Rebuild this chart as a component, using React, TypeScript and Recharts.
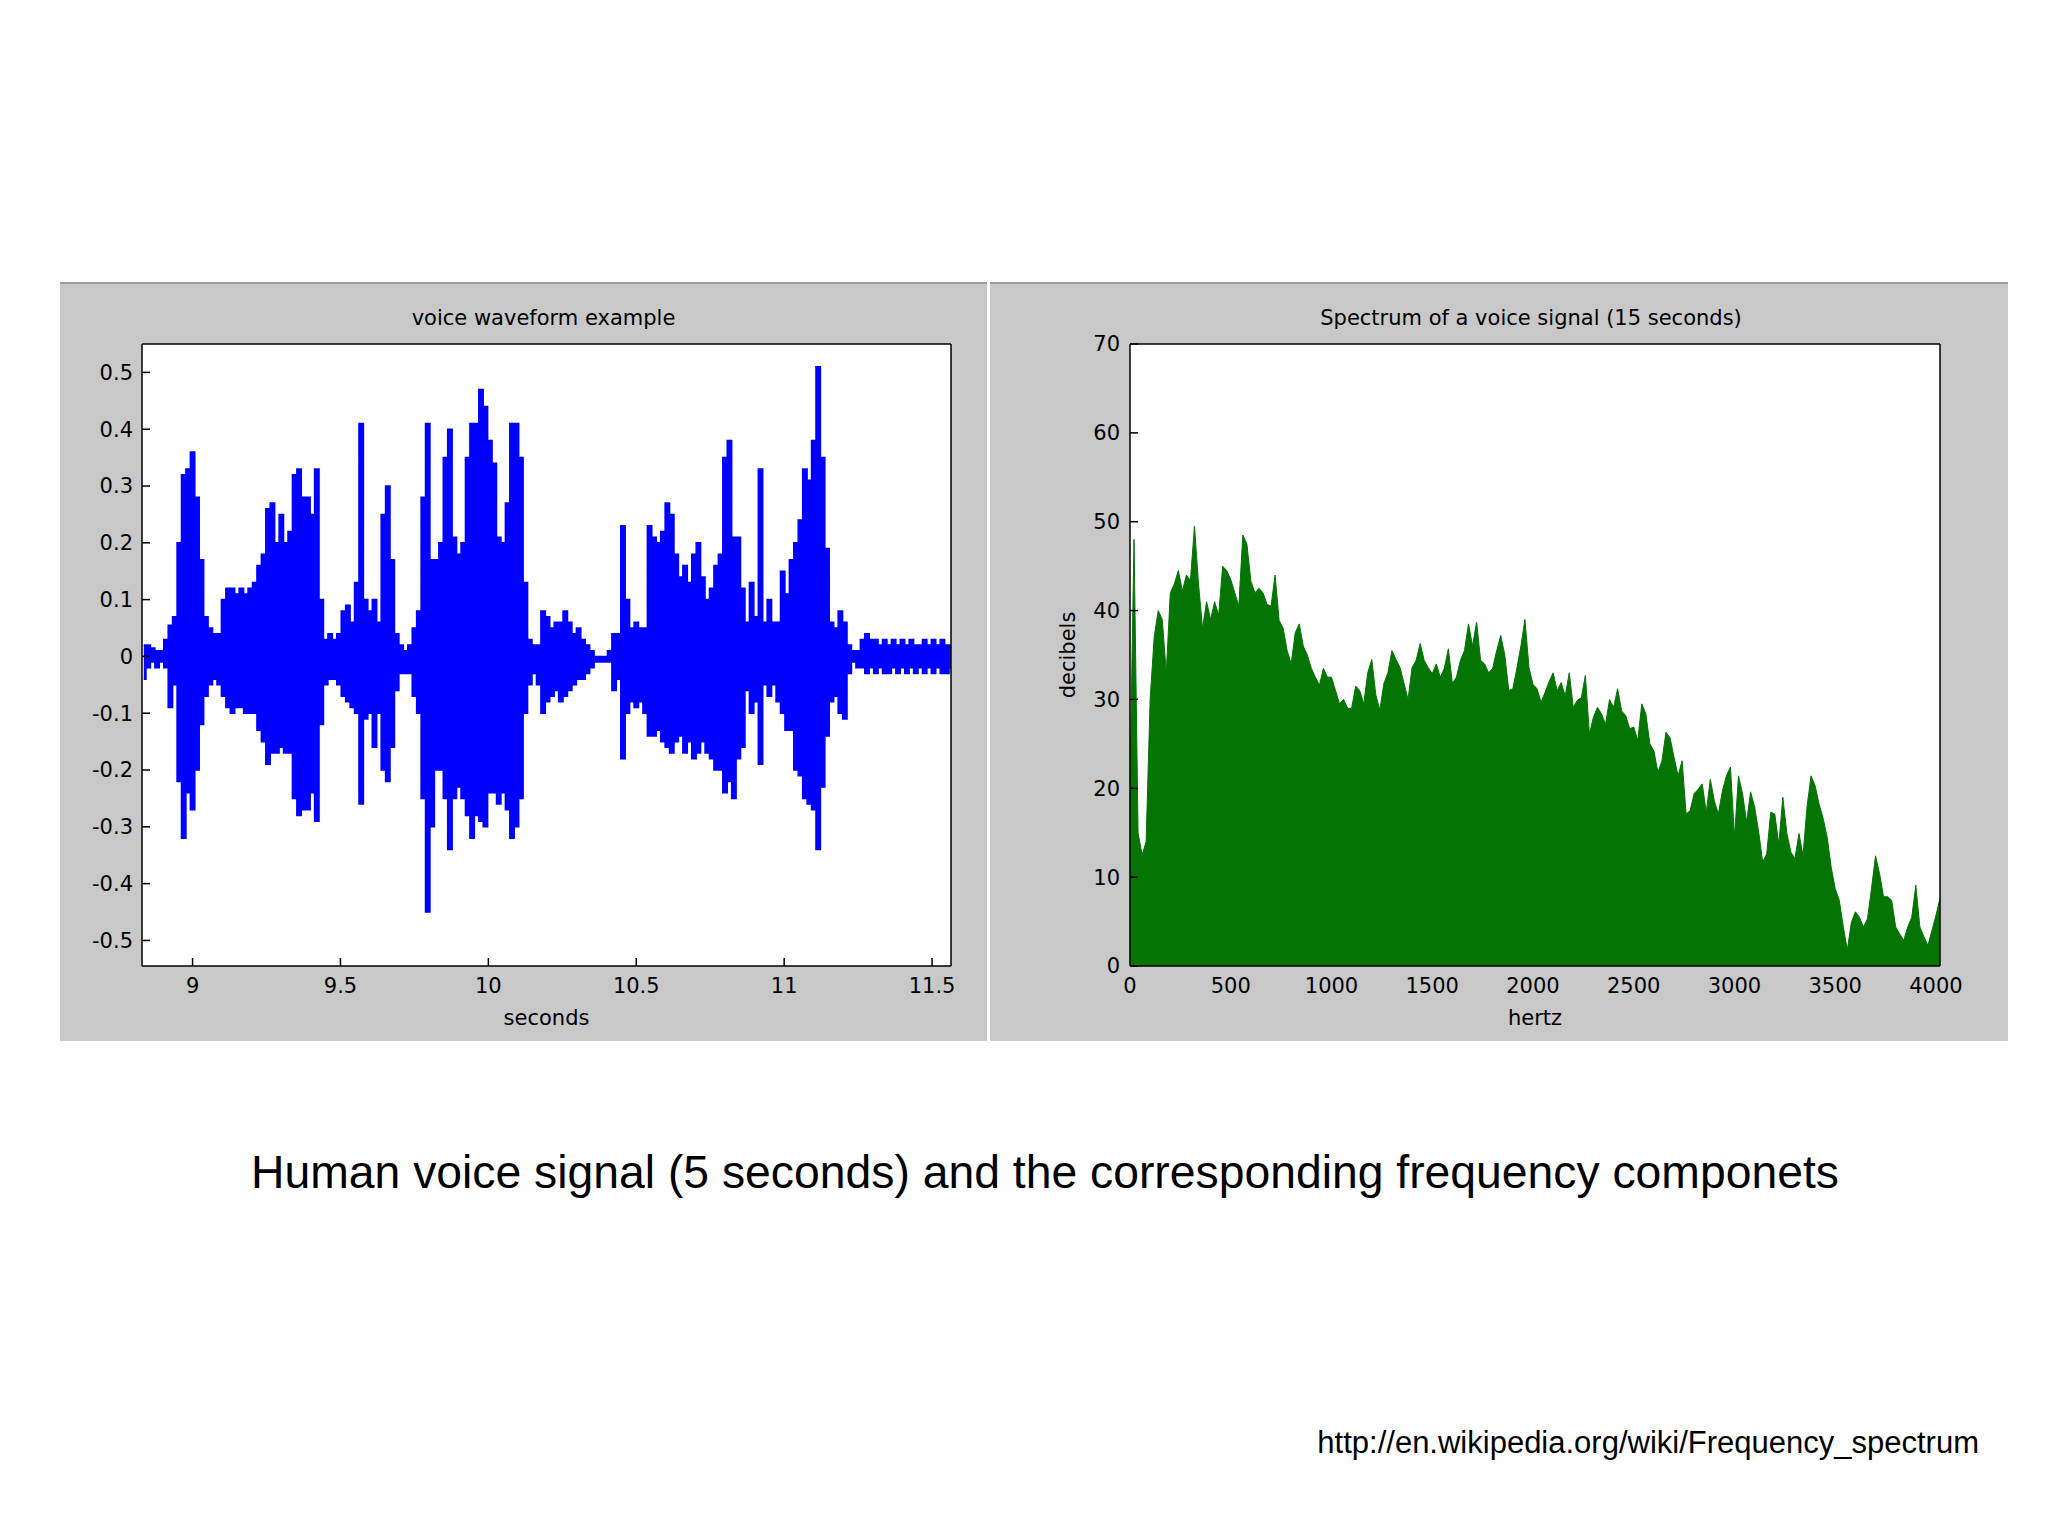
import { AreaChart, Area, XAxis, YAxis, CartesianGrid } from 'recharts'

// voice waveform: upper / lower envelope read every 15 ms from 8.835 s
const waveStart = 8.835
const waveStep = 0.015
const waveHi = [
  0.02, 0.02, 0.015, 0.01, 0.01, 0.03, 0.055, 0.07, 0.2, 0.32,
  0.33, 0.36, 0.28, 0.17, 0.07, 0.05, 0.04, 0.04, 0.1, 0.12,
  0.12, 0.11, 0.12, 0.11, 0.12, 0.13, 0.16, 0.18, 0.26, 0.27,
  0.2, 0.25, 0.2, 0.22, 0.32, 0.33, 0.28, 0.28, 0.25, 0.33,
  0.1, 0.03, 0.04, 0.03, 0.04, 0.08, 0.09, 0.06, 0.13, 0.41,
  0.1, 0.08, 0.1, 0.06, 0.25, 0.3, 0.17, 0.04, 0.02, 0.01,
  0.02, 0.05, 0.08, 0.28, 0.41, 0.17, 0.17, 0.2, 0.35, 0.4,
  0.21, 0.18, 0.2, 0.35, 0.41, 0.41, 0.47, 0.44, 0.38, 0.34,
  0.21, 0.2, 0.27, 0.41, 0.41, 0.35, 0.13, 0.03, 0.02, 0.02,
  0.08, 0.07, 0.05, 0.06, 0.06, 0.08, 0.06, 0.04, 0.05, 0.03,
  0.02, 0.01, 0, 0, 0, 0.01, 0.04, 0.04, 0.23, 0.1,
  0.05, 0.06, 0.05, 0.05, 0.23, 0.21, 0.2, 0.22, 0.27, 0.25,
  0.18, 0.14, 0.16, 0.13, 0.18, 0.2, 0.14, 0.1, 0.12, 0.16,
  0.18, 0.35, 0.38, 0.21, 0.21, 0.12, 0.06, 0.13, 0.07, 0.33,
  0.06, 0.1, 0.06, 0.06, 0.15, 0.11, 0.17, 0.2, 0.24, 0.33,
  0.31, 0.38, 0.51, 0.35, 0.19, 0.06, 0.05, 0.08, 0.06, 0.02,
  0.01, 0.01, 0.03, 0.04, 0.03, 0.03, 0.02, 0.03, 0.02, 0.03,
  0.02, 0.03, 0.02, 0.03, 0.02, 0.02, 0.03, 0.02, 0.03, 0.02,
  0.03, 0.02, 0.02,
]
const waveLo = [
  -0.04, -0.02, -0.01, -0.02, -0.01, -0.02, -0.09, -0.05, -0.22, -0.32,
  -0.24, -0.27, -0.2, -0.12, -0.07, -0.05, -0.04, -0.05, -0.07, -0.09,
  -0.1, -0.09, -0.09, -0.1, -0.1, -0.1, -0.13, -0.15, -0.19, -0.17,
  -0.17, -0.16, -0.17, -0.17, -0.25, -0.28, -0.27, -0.27, -0.24, -0.29,
  -0.12, -0.05, -0.04, -0.04, -0.05, -0.07, -0.08, -0.09, -0.1, -0.26,
  -0.11, -0.1, -0.16, -0.1, -0.2, -0.22, -0.16, -0.06, -0.03, -0.03,
  -0.03, -0.07, -0.1, -0.25, -0.45, -0.3, -0.2, -0.2, -0.25, -0.34,
  -0.25, -0.23, -0.25, -0.28, -0.32, -0.28, -0.29, -0.3, -0.24, -0.24,
  -0.26, -0.24, -0.27, -0.32, -0.3, -0.25, -0.1, -0.05, -0.03, -0.05,
  -0.1, -0.08, -0.07, -0.06, -0.08, -0.07, -0.06, -0.05, -0.04, -0.04,
  -0.03, -0.02, -0.01, -0.01, -0.01, -0.01, -0.06, -0.04, -0.18, -0.1,
  -0.08, -0.09, -0.08, -0.1, -0.14, -0.14, -0.13, -0.15, -0.16, -0.17,
  -0.15, -0.14, -0.17, -0.15, -0.18, -0.17, -0.15, -0.17, -0.18, -0.2,
  -0.2, -0.24, -0.22, -0.25, -0.18, -0.16, -0.06, -0.1, -0.08, -0.19,
  -0.05, -0.07, -0.05, -0.08, -0.1, -0.13, -0.13, -0.2, -0.21, -0.25,
  -0.26, -0.27, -0.34, -0.23, -0.14, -0.08, -0.07, -0.1, -0.11, -0.03,
  -0.01, -0.02, -0.02, -0.03, -0.02, -0.03, -0.02, -0.03, -0.03, -0.02,
  -0.03, -0.02, -0.03, -0.02, -0.03, -0.02, -0.03, -0.02, -0.03, -0.02,
  -0.03, -0.03, -0.02,
]
const waveXTicks = [9, 9.5, 10, 10.5, 11, 11.5]
const waveYTicks = [-0.5, -0.4, -0.3, -0.2, -0.1, 0, 0.1, 0.2, 0.3, 0.4, 0.5]

// spectrum: decibels read every 20 Hz from 0 Hz
const specStep = 20
const specDb = [
  21, 48, 15, 12.5, 14, 30,
  37, 40, 39, 33, 42,
  43, 44.5, 42.2, 44, 43.4,
  49.5, 43, 38, 41, 39,
  41, 39.5, 45, 44.5, 43.5,
  42, 40.5, 48.5, 47.5, 43.3,
  42, 42.5, 42, 40.7, 40.5,
  44, 38.9, 38, 35.5, 34,
  37.5, 38.5, 36, 35, 33.5,
  32.5, 31.6, 33.5, 32.5, 32.5,
  31, 29.5, 30, 29, 29,
  31.5, 31, 29.5, 33, 34.5,
  30.5, 28.8, 31.8, 33, 35.5,
  34.5, 33.6, 31.8, 30, 33.6,
  34.4, 36.3, 34.4, 33.6, 32.9,
  34, 32.5, 33.5, 35.7, 31.8,
  32.5, 34.4, 35.5, 38.5, 36,
  38.7, 34.4, 34, 33, 33.5,
  35.5, 37.2, 35, 31, 31.2,
  33.5, 36, 39, 33.6, 31.7,
  31.2, 29.7, 30.8, 32, 33,
  31, 31.9, 30.4, 33, 29.1,
  29.9, 30.2, 32.7, 26.1, 28,
  29.1, 28.4, 27.2, 30, 29.1,
  31.2, 28.7, 28.2, 26.7, 26.9,
  25.4, 29.5, 28.4, 25, 24.2,
  21.8, 23.1, 26.3, 25.7, 23.5,
  21.4, 23.1, 17.1, 17.5, 19.4,
  19.9, 20.5, 17.3, 21, 18.6,
  17.1, 19.7, 21.4, 22.4, 14.5,
  21.4, 19.4, 16.2, 19.6, 17.9,
  15.1, 11.7, 12.6, 17.3, 17.1,
  13.7, 19, 14.9, 12.8, 12.1,
  14.9, 12.4, 17.9, 21.4, 20.3,
  18.2, 16.6, 14.5, 11.1, 8.7,
  7.4, 4.4, 1.8, 4.9, 6.1,
  5.5, 4.4, 5.3, 8.7, 12.4,
  10.4, 7.8, 7.8, 7.4, 4.4,
  3.6, 2.9, 4.4, 5.5, 9.1,
  4.4, 3.3, 2.3, 4, 5.7,
  7.6,
]
const specXTicks = [0, 500, 1000, 1500, 2000, 2500, 3000, 3500, 4000]
const specYTicks = [0, 10, 20, 30, 40, 50, 60, 70]

// waveform drawn as a band between the lower and upper envelope
const waveData = waveHi.map((hi, i) => ({ t: waveStart + i * waveStep, range: [waveLo[i], hi] }))
const specData = specDb.map((db, i) => ({ hz: i * specStep, db }))

const FONT = '"DejaVu Sans", sans-serif'
const tickText = { fill: '#000', fontSize: 21, fontFamily: FONT }
const blackLine = { stroke: '#000', strokeWidth: 1.5 }
const labelText = { fill: '#000', fontSize: 21, fontFamily: FONT }

const panel = (left: number, width: number): React.CSSProperties => ({
  position: 'absolute', left, top: 282, width, height: 759,
  background: '#c8c8c8', borderTop: '2px solid #9c9c9c', boxSizing: 'border-box',
})

const title = (left: number, width: number): React.CSSProperties => ({
  position: 'absolute', left, width, top: 306, textAlign: 'center',
  fontFamily: FONT, fontSize: 21, lineHeight: '24px', color: '#000', whiteSpace: 'nowrap',
})

const fmtWaveY = (v: number) => (v === 0 ? '0' : v.toFixed(1))

export default function App() {
  return (
    <div style={{ position: 'absolute', left: 0, top: 0, width: 2048, height: 1535, background: '#fff' }}>
      <div style={panel(60, 927)} />
      <div style={panel(990, 1018)} />

      <div style={{ position: 'absolute', left: 60, top: 282 }}>
        <AreaChart width={927} height={759} data={waveData} margin={{ top: 61, right: 35, bottom: 0, left: 0 }}>
          <CartesianGrid horizontal={false} vertical={false} fill="#ffffff" />
          <Area
            type="step" dataKey="range" stroke="#0000ff" strokeWidth={1.5} fill="#0000ff" fillOpacity={1}
            dot={false} activeDot={false} isAnimationActive={false}
          />
          <XAxis
            dataKey="t" type="number" domain={[8.829, 11.564]} allowDataOverflow
            ticks={waveXTicks} interval={0} height={75}
            tick={tickText} tickSize={-8} tickMargin={20} axisLine={blackLine} tickLine={blackLine}
            label={{ value: 'seconds', position: 'insideBottom', offset: 16, ...labelText }}
          />
          <XAxis
            xAxisId="top" orientation="top" type="number" domain={[8.829, 11.564]} allowDataOverflow
            ticks={waveXTicks} interval={0} height={1}
            tick={false} tickSize={-8} axisLine={blackLine} tickLine={blackLine}
          />
          <YAxis
            type="number" domain={[-0.545, 0.55]} allowDataOverflow ticks={waveYTicks} interval={0} width={82}
            tick={tickText} tickSize={-8} tickMargin={17} tickFormatter={fmtWaveY}
            axisLine={blackLine} tickLine={blackLine}
          />
          <YAxis
            yAxisId="right" orientation="right" type="number" domain={[-0.545, 0.55]} allowDataOverflow
            ticks={waveYTicks} interval={0} width={1}
            tick={false} tickSize={-8} axisLine={blackLine} tickLine={blackLine}
          />
        </AreaChart>
      </div>

      <div style={{ position: 'absolute', left: 990, top: 282 }}>
        <AreaChart width={1017} height={759} data={specData} margin={{ top: 61, right: 66, bottom: 0, left: 0 }}>
          <CartesianGrid horizontal={false} vertical={false} fill="#ffffff" />
          <Area
            type="linear" dataKey="db" stroke="#047404" strokeWidth={1} fill="#047404" fillOpacity={1}
            dot={false} activeDot={false} isAnimationActive={false}
          />
          <XAxis
            dataKey="hz" type="number" domain={[0, 4020]} allowDataOverflow
            ticks={specXTicks} interval={0} height={75}
            tick={tickText} tickSize={-8} tickMargin={20} axisLine={blackLine} tickLine={false}
            label={{ value: 'hertz', position: 'insideBottom', offset: 16, ...labelText }}
          />
          <XAxis
            xAxisId="top" orientation="top" type="number" domain={[0, 4020]} allowDataOverflow
            ticks={specXTicks} interval={0} height={1}
            tick={false} tickSize={-8} axisLine={blackLine} tickLine={blackLine}
          />
          <YAxis
            type="number" domain={[0, 70]} allowDataOverflow ticks={specYTicks} interval={0} width={140}
            tick={tickText} tickSize={-8} tickMargin={18} axisLine={blackLine} tickLine={blackLine}
            label={{ value: 'decibels', angle: -90, position: 'insideLeft', offset: 78, ...labelText, style: { textAnchor: 'middle' } }}
          />
          <YAxis
            yAxisId="right" orientation="right" type="number" domain={[0, 70]} allowDataOverflow
            ticks={specYTicks} interval={0} width={1}
            tick={false} tickSize={-8} axisLine={blackLine} tickLine={blackLine}
          />
        </AreaChart>
      </div>

      <div style={title(139, 809)}>voice waveform example</div>
      <div style={title(1126, 810)}>Spectrum of a voice signal (15 seconds)</div>

      <div style={{
        position: 'absolute', left: 0, width: 2090, top: 1146, textAlign: 'center',
        fontFamily: '"Liberation Sans", Arial, sans-serif', fontSize: 46.3, lineHeight: '52px', color: '#000', whiteSpace: 'nowrap',
      }}>
        Human voice signal (5 seconds) and the corresponding frequency componets
      </div>
      <div style={{
        position: 'absolute', left: 0, width: 1979, top: 1425, textAlign: 'right',
        fontFamily: '"Liberation Sans", Arial, sans-serif', fontSize: 31, lineHeight: '36px', color: '#000', whiteSpace: 'nowrap',
      }}>
        http://en.wikipedia.org/wiki/Frequency_spectrum
      </div>
    </div>
  )
}
